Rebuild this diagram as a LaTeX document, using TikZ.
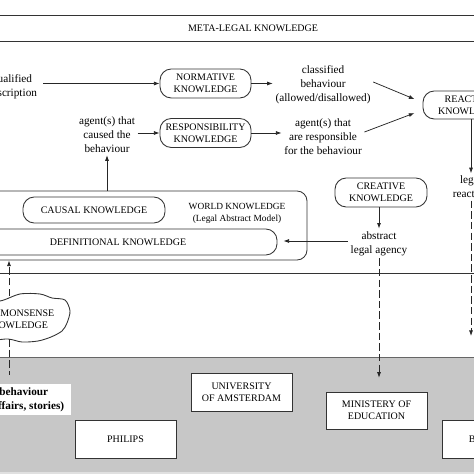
\documentclass[tikz,border=0pt]{standalone}
\usepackage{fontspec}
\setmainfont{Liberation Serif}
\usetikzlibrary{arrows.meta}

\newcommand{\capsfont}{\fontsize{8}{9.6}\selectfont}
\newcommand{\txtfont}{\fontsize{9}{11.2}\selectfont}
\newcommand{\worldfont}{\fontsize{7.5}{9.6}\selectfont}
\newcommand{\behavfont}{\fontsize{9}{11.2}\selectfont\bfseries}

\tikzset{
	knowbox/.style={draw=black!80, line width=0.7pt, rounded corners=9pt, align=center, font=\capsfont, inner sep=1pt, minimum width=91*0.8pt, minimum height=29*0.8pt},
	orgbox/.style={draw=black!80, line width=0.8pt, fill=white, align=center, font=\capsfont, minimum width=101*0.8pt, minimum height=38*0.8pt},
	txt/.style={align=center, font=\txtfont, inner sep=2pt},
	arr/.style={draw=black!85, line width=0.6pt, -{Latex[length=4.5pt,width=3.2pt]}},
	dasharr/.style={arr, dash pattern=on 6pt off 2.5pt},
}

\begin{document}
\begin{tikzpicture}[x=0.8pt,y=-0.8pt]
		% Picture size in pixels of the reference
		\useasboundingbox (0,0) rectangle (474,474);
		\clip (0,0) rectangle (474,474);
		
		% Meta-legal band at the top
		\node[knowbox, rounded corners=0pt, minimum width=540*0.8pt, minimum height=26*0.8pt] (meta) at (253,28.5) {META-LEGAL KNOWLEDGE};
		
		% Normative and responsibility rows
		\node[txt] (qual) at (12,87) {qualified\\description};
		\node[knowbox] (norm) at (205.5,83.5) {NORMATIVE\\KNOWLEDGE};
		\node[txt] (class) at (323,85) {classified\\behaviour\\(allowed/disallowed)};
		\node[txt] (cause) at (107,134.5) {agent(s) that\\caused the\\behaviour};
		\node[knowbox] (resp) at (205.5,133) {RESPONSIBILITY\\KNOWLEDGE};
		\node[txt] (agent) at (323,137) {agent(s) that\\are responsible\\for the behaviour};
		\node[knowbox, minimum width=94*0.8pt, minimum height=28*0.8pt] (react) at (470,105) {REACTION\\KNOWLEDGE};
		\node[txt] (lreact) at (471,187) {legal\\reaction};
		
		% World knowledge block
		\node[draw=black!80, line width=0.7pt, rounded corners=8pt, minimum width=327*0.8pt, minimum height=69*0.8pt] (world) at (143.5,225.5) {};
		\node[txt, font=\worldfont] (wlabel) at (237,213) {WORLD KNOWLEDGE\\(Legal Abstract Model)};
		\node[knowbox, minimum width=142*0.8pt, minimum height=26*0.8pt] (causal) at (94,210) {CAUSAL KNOWLEDGE};
		\node[knowbox, minimum width=318*0.8pt, minimum height=26*0.8pt] (defin) at (118,242) {DEFINITIONAL KNOWLEDGE};
		\node[knowbox, minimum width=92*0.8pt] (creat) at (381,192.5) {CREATIVE\\KNOWLEDGE};
		\node[txt] (abstr) at (379,243.5) {abstract\\legal agency};
		
		% Long line under the legal part
		\draw[black!80, line width=0.7pt] (-10,273) -- (484,273);
		
		% Commonsense cloud
		\draw[black!80, line width=0.7pt, fill=white] plot[smooth cycle] coordinates {(-20,300) (0,301) (20,294) (40,294) (52,298) (65,300) (70,311) (67,323) (62,331) (51,337) (38,341) (22,342) (8,339) (-20,338)};
		\node[txt, font=\capsfont] (cs) at (16,319) {COMMONSENSE\\KNOWLEDGE};
		\coordinate (cstop) at (9,296);
		\coordinate (csbot) at (9,339);
		
		% Society band at the bottom
		\fill[black!22] (-10,357) rectangle (484,474);
		\draw[black!60, line width=0.7pt] (-10,357) -- (484,357);
		\draw[black!12, line width=1pt] (-10,473) -- (484,473);
		\node[txt, font=\behavfont, fill=white, minimum width=131*0.8pt, minimum height=31*0.8pt] (behav) at (5.5,399.5) {human behaviour\\(states of affairs, stories)};
		\node[orgbox] (philips) at (125.5,439) {PHILIPS};
		\node[orgbox] (uva) at (241.5,392) {UNIVERSITY\\OF AMSTERDAM};
		\node[orgbox, minimum height=37*0.8pt] (minedu) at (376.5,410.5) {MINISTERY OF\\EDUCATION};
		\node[orgbox] (bus) at (492.5,439) {BUSINESS};
		\coordinate (reactend) at (471,336);
		
		% Connectors
		\draw[arr, shorten <=3pt] (qual.east |- norm.west) -- (norm.west);
		\draw[arr] (norm.east) -- (class.west |- norm.east);
		\draw[arr] (cause.east |- resp.west) -- (resp.west);
		\draw[arr] (resp.east) -- (agent.west |- resp.east);
		\draw[arr, shorten >=7pt] ([yshift=2.4pt]class.east) -- ([yshift=2pt]react.west);
		\draw[arr, shorten >=7pt] ([yshift=4pt]agent.east) -- ([yshift=-4pt]react.west);
		\draw[arr] (react.south -| lreact) -- (lreact.north);
		\draw[dasharr] (lreact.south) -- (reactend);
		\draw[arr] (cause.south |- world.north) -- (cause.south);
		\draw[arr] (creat.south -| abstr) -- (abstr.north);
		\draw[arr, shorten >=4.8pt] ([yshift=2pt]abstr.west) -- ([yshift=2pt]abstr.west -| defin.east);
		\draw[dasharr, shorten >=11pt] (abstr.south) -- (abstr.south |- minedu.north);
		\draw[dasharr] (cstop) -- (cstop |- world.south);
		\draw[draw=black!85, line width=0.6pt, dash pattern=on 6pt off 2.5pt, shorten >=7pt] (csbot) -- (csbot |- behav.north);
	\end{tikzpicture}
\end{document}
